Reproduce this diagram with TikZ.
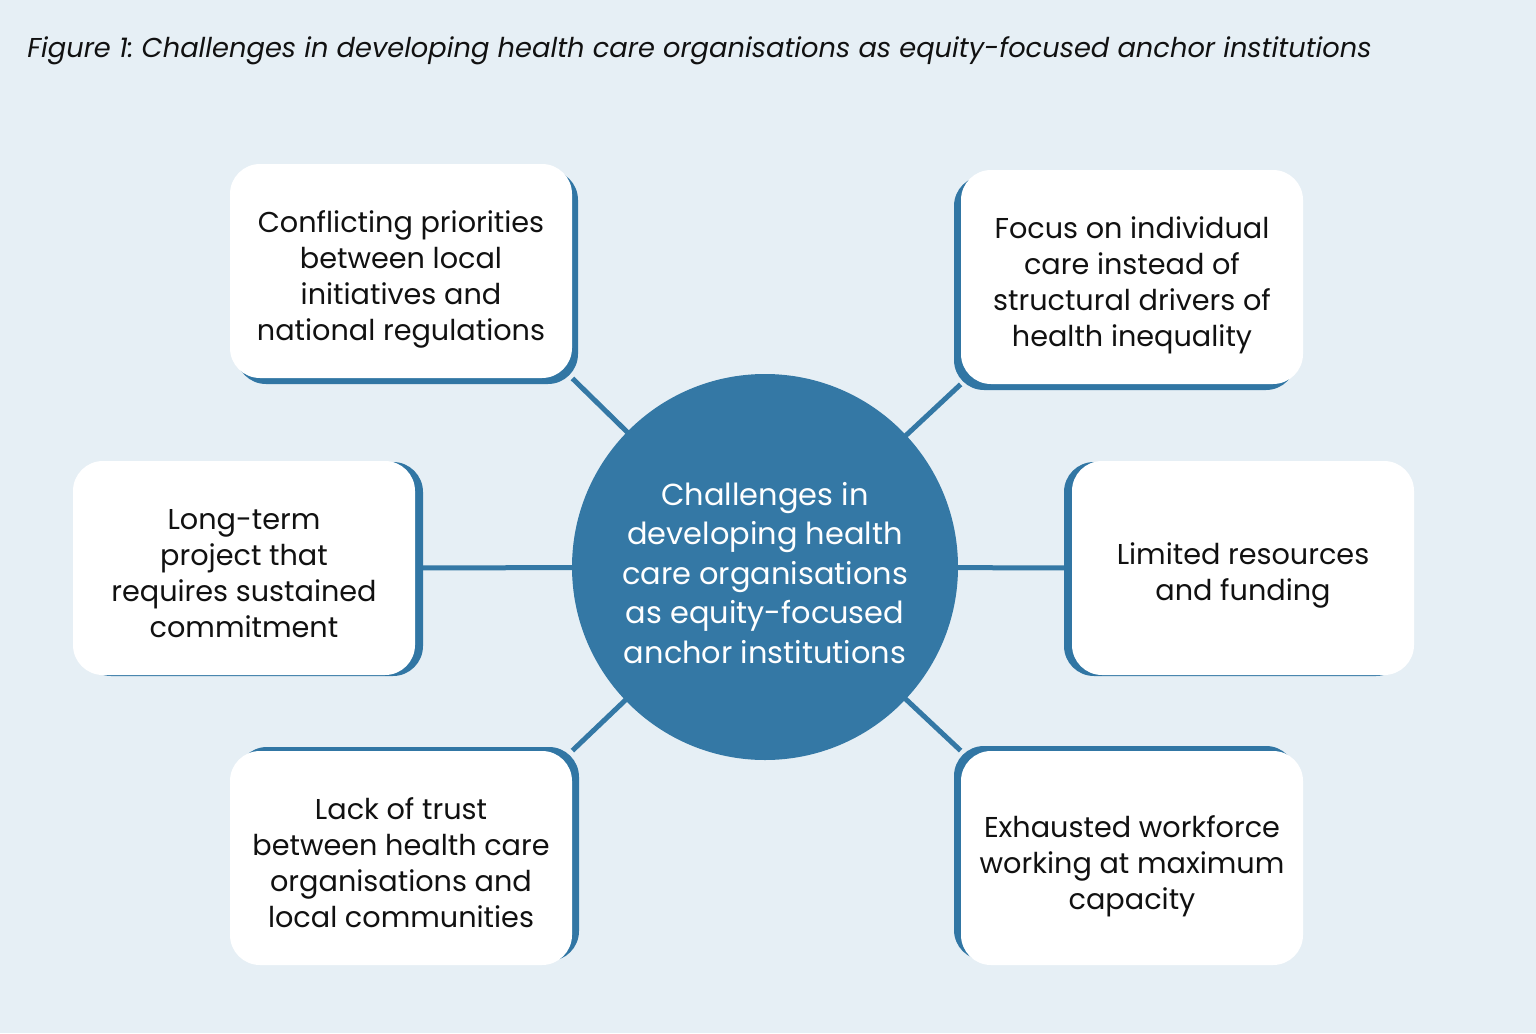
\documentclass[tikz,border=0pt]{standalone}
\usepackage{fontspec}
\setmainfont{Poppins}
\usetikzlibrary{shadows,backgrounds}
\definecolor{bgcol}{HTML}{E6EFF5}
\definecolor{mainblue}{HTML}{3478A5}
\definecolor{shblue}{HTML}{3176A4}
\definecolor{txt}{HTML}{111111}
\begin{document}
\begin{tikzpicture}[x=0.5pt,y=-0.5pt,
  box/.style={fill=white, rounded corners=15pt, minimum width=171pt, minimum height=107pt, inner sep=0pt},
  boxtext/.style={inner sep=0pt, align=center, text=txt, font=\fontsize{14.35}{18}\selectfont},
  sh/.style 2 args={drop shadow={shadow xshift=#1, shadow yshift=#2, fill=shblue, opacity=1}},
  link/.style={draw=mainblue, line width=2.5pt}]
\useasboundingbox (0,0) rectangle (1536,1033);
\node[anchor=base west, font=\itshape\frenchspacing\fontsize{13.65}{16}\selectfont, text=txt, inner sep=0pt] (title) at (27,57)
  {Figure 1: Challenges in developing health care organisations as equity-focused anchor institutions};
\node[circle, fill=mainblue, minimum size=193pt, inner sep=0pt] (c) at (765,567) {};
\node[inner sep=0pt, align=center, text=white, font=\fontsize{15.2}{19.75}\selectfont] (ct)
  at ([yshift=-3pt]c.center)
  {Challenges in\\developing health\\care organisations\\as equity-focused\\anchor institutions};
\node[box, sh={3pt}{-3pt}] (tl) at (401,271) {};
\node[box, sh={-3.5pt}{-3pt}] (tr) at (1132,277) {};
\node[box, sh={4pt}{-0.5pt}] (ml) at (244,568) {};
\node[box, sh={-4pt}{-0.5pt}] (mr) at (1243,568) {};
\node[box, sh={3.5pt}{2pt}] (bl) at (401,858) {};
\node[box, sh={-3.5pt}{2.5pt}] (br) at (1132,858) {};
\node[boxtext] (tlt) at ([yshift=-4pt]tl.center) {Conflicting priorities\\between local\\initiatives and\\national regulations};
\node[boxtext] (trt) at ([yshift=-4.2pt]tr.center) {Focus on individual\\care instead of\\structural drivers of\\health inequality};
\node[boxtext] (mlt) at ([yshift=-3pt]ml.center) {Long-term\\project that\\requires sustained\\commitment};
\node[boxtext] (mrt) at ([yshift=-3.5pt]mr.center) {Limited resources\\and funding};
\node[boxtext] (blt) at ([yshift=-2.5pt]bl.center) {Lack of trust\\between health care\\organisations and\\local communities};
\node[boxtext] (brt) at ([yshift=-4pt]br.center) {Exhausted workforce\\working at maximum\\capacity};
\begin{pgfonlayer}{background}
  \fill[bgcol] (0,0) rectangle (1536,1033);
  \draw[link] (c.center) -- (tl.south east);
  \draw[link] (c.center) -- (tr.south west);
  \draw[link] (c.center) -- (ml.east);
  \draw[link] (c.center) -- (mr.west);
  \draw[link] (c.center) -- (bl.north east);
  \draw[link] (c.center) -- (br.north west);
\end{pgfonlayer}
\end{tikzpicture}
\end{document}
